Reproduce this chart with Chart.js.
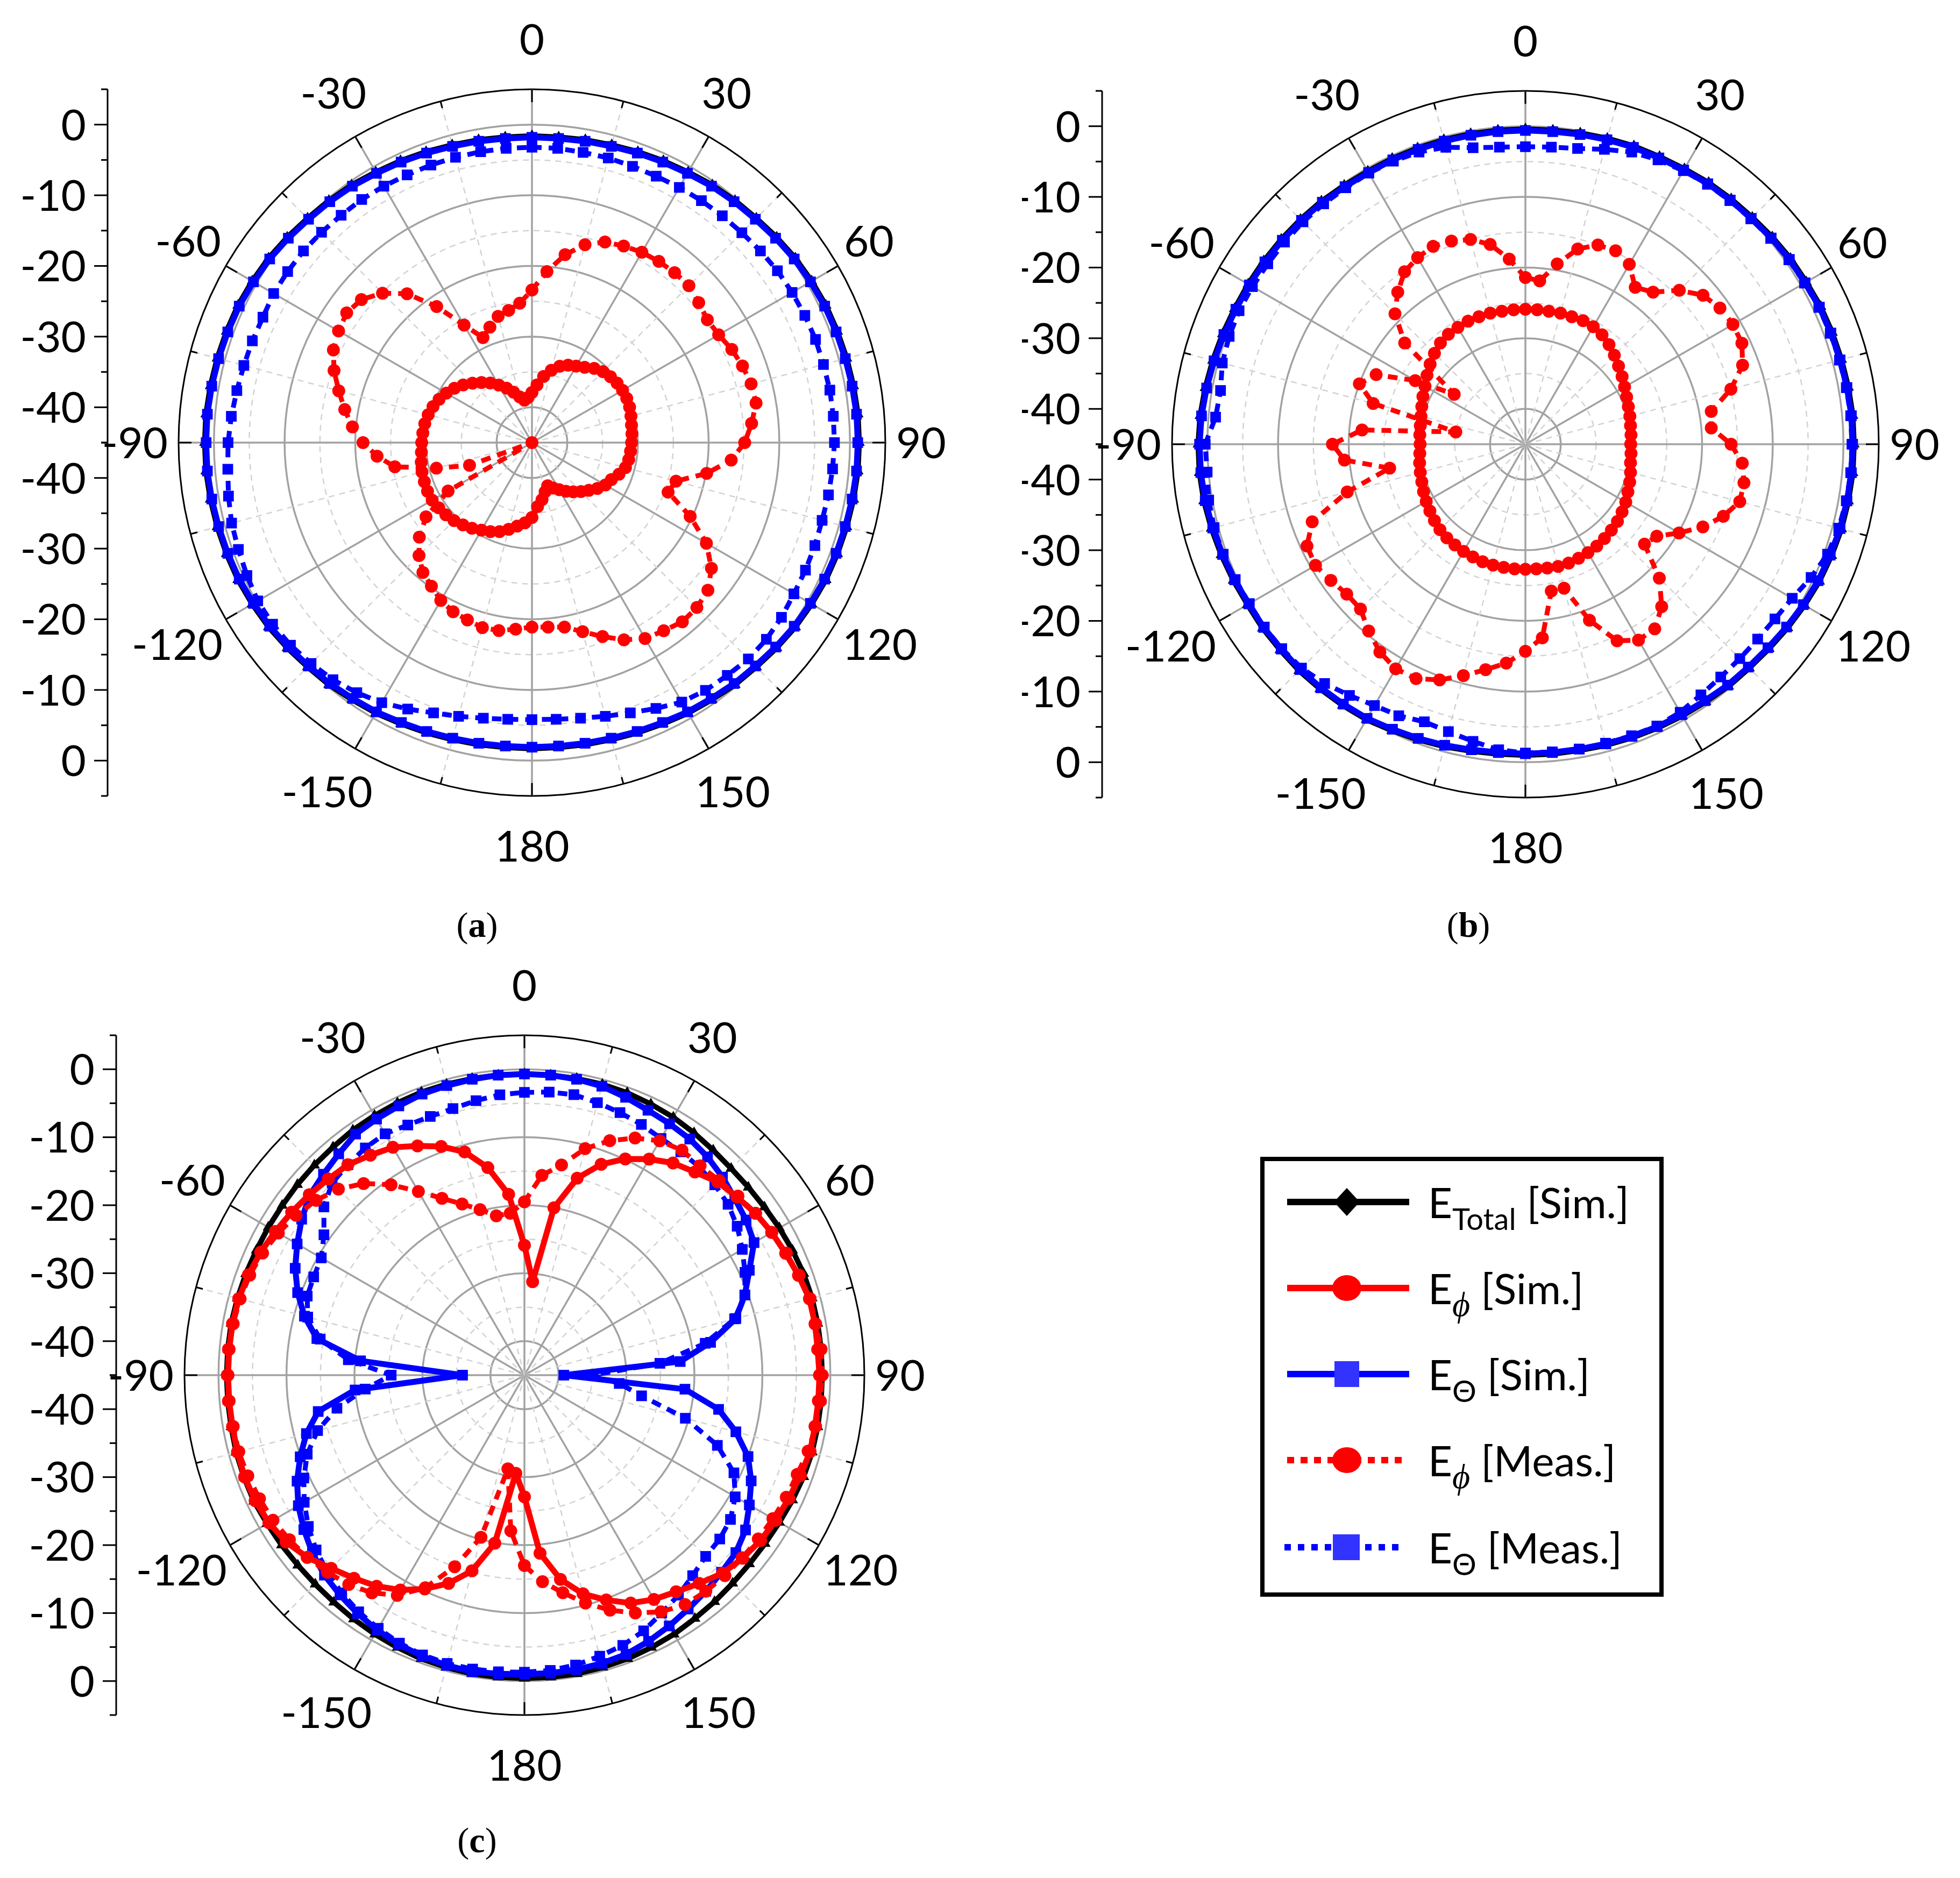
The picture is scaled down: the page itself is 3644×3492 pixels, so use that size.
<!DOCTYPE html>
<html>
<head>
<meta charset="utf-8">
<script src="https://cdn.jsdelivr.net/npm/chart.js@4.4.1/dist/chart.umd.min.js"></script>
<style>
  html, body { margin: 0; padding: 0; background: #fff; }
  body { width: 3644px; height: 3492px; position: relative; overflow: hidden; }
  canvas { position: absolute; }
  .cap { position: absolute; width: 200px; margin-left: -100px; text-align: center;
         font-family: 'Liberation Serif', 'DejaVu Serif', serif; font-size: 66px; line-height: 72px; }
  #legend { position: absolute; left: 2343px; top: 2151px; width: 750px; height: 818px;
            border: 8px solid #000; box-sizing: border-box; }
  #legend svg { position: absolute; left: 0; top: 0; }
</style>
</head>
<body>
<canvas id="chartA" width="1900" height="1820" style="left:0;top:0"></canvas>
<canvas id="chartB" width="1744" height="1820" style="left:1900px;top:0"></canvas>
<canvas id="chartC" width="1900" height="1752" style="left:0;top:1740px"></canvas>

<div class="cap" style="left:887px;top:1684px">(<b>a</b>)</div>
<div class="cap" style="left:2730px;top:1684px">(<b>b</b>)</div>
<div class="cap" style="left:887px;top:3386px">(<b>c</b>)</div>

<div id="legend">
  <svg width="734" height="802" xmlns="http://www.w3.org/2000/svg">
    <!-- E_Total [Sim.] -->
    <line x1="42" y1="76" x2="269" y2="76" stroke="#000" stroke-width="12"/>
    <polygon points="153,50 177,76 153,102 129,76" fill="#000"/>
    <!-- E_phi [Sim.] -->
    <line x1="42" y1="236" x2="269" y2="236" stroke="#ff0000" stroke-width="12"/>
    <ellipse cx="153" cy="236" rx="27" ry="24" fill="#ff0000"/>
    <!-- E_theta [Sim.] -->
    <line x1="42" y1="396" x2="269" y2="396" stroke="#0000ff" stroke-width="12"/>
    <rect x="130" y="372" width="46" height="48" fill="#3333ff"/>
    <!-- E_phi [Meas.] -->
    <line x1="42" y1="556" x2="262" y2="556" stroke="#ff0000" stroke-width="12" stroke-dasharray="13 12"/>
    <ellipse cx="153" cy="556" rx="27" ry="24" fill="#ff0000"/>
    <!-- E_theta [Meas.] -->
    <line x1="37" y1="718" x2="257" y2="718" stroke="#0000ff" stroke-width="12" stroke-dasharray="12 13"/>
    <rect x="127" y="694" width="50" height="48" fill="#3333ff"/>

    <g font-family="Lato, 'DejaVu Sans', sans-serif" font-size="78" fill="#000">
      <text x="304" y="106">E<tspan font-size="56" dy="22">Total</tspan><tspan dy="-22"> [Sim.]</tspan></text>
      <text x="304" y="266">E<tspan font-family="'Liberation Serif', serif" font-style="italic" font-size="64" dy="22">ϕ</tspan><tspan dy="-22"> [Sim.]</tspan></text>
      <text x="304" y="426">E<tspan font-size="56" dy="22">Θ</tspan><tspan dy="-22"> [Sim.]</tspan></text>
      <text x="304" y="586">E<tspan font-family="'Liberation Serif', serif" font-style="italic" font-size="64" dy="22">ϕ</tspan><tspan dy="-22"> [Meas.]</tspan></text>
      <text x="304" y="748">E<tspan font-size="56" dy="22">Θ</tspan><tspan dy="-22"> [Meas.]</tspan></text>
    </g>
  </svg>
</div>

<script>
// ──────────────────────────────────────────────────
// Polar radiation patterns (a), (b), (c) — Chart.js radar
// ──────────────────────────────────────────────────

// measurement angles (deg), clockwise from top
const ANGLES = [0, 5, 10, 15, 20, 25, 30, 35, 40, 45, 50, 55, 60, 65, 70, 75, 80, 85, 90,
  95, 100, 105, 110, 115, 120, 125, 130, 135, 140, 145, 150, 155, 160, 165, 170, 175, 180,
  -175, -170, -165, -160, -155, -150, -145, -140, -135, -130, -125, -120, -115, -110, -105,
  -100, -95, -90, -85, -80, -75, -70, -65, -60, -55, -50, -45, -40, -35, -30, -25, -20, -15, -10, -5];

const ANGLE_TICKS = [0, 30, 60, 90, 120, 150, 180, -150, -120, -90, -60, -30];
const RADIAL_TICKS = [0, -10, -20, -30, -40];
const RINGS = [-40, -35, -30, -25, -20, -15, -10, -5, 0, 5];
const R_MIN = -45;
const R_MAX = 5;

// ─── (a) ─────────────────────────────────────────
const A_TOTAL = [-1.6, -1.6, -1.5, -1.4, -1.2, -1.0, -0.8, -0.5, -0.3, -0.1,
  0.2, 0.5, 0.7, 0.9, 1.0, 1.1, 1.2, 1.3, 1.3, 1.3, 1.2, 1.1, 1.0, 0.9, 0.7, 0.5, 0.2, -0.1, -0.3, -0.6,
  -0.8, -1.1, -1.3, -1.5, -1.6, -1.7, -1.7,
  -1.7, -1.6, -1.5, -1.3, -1.1, -0.8, -0.6, -0.3, -0.1, 0.2, 0.5, 0.7, 0.9, 1.0, 1.1, 1.2, 1.3, 1.3,
  1.3, 1.2, 1.1, 1.0, 0.9, 0.7, 0.5, 0.2, -0.1, -0.3, -0.5, -0.8, -1.0, -1.2, -1.4, -1.5, -1.6];
const A_THETA_SIM = [-1.8, -1.8, -1.7, -1.6, -1.4, -1.2, -1.0, -0.7, -0.5, -0.3,
  0.0, 0.3, 0.5, 0.7, 0.8, 0.9, 1.0, 1.1, 1.1, 1.1, 1.0, 0.9, 0.8, 0.7, 0.5, 0.3, 0.0, -0.3, -0.5, -0.8,
  -1.0, -1.3, -1.5, -1.7, -1.8, -1.9, -1.9,
  -1.9, -1.8, -1.7, -1.5, -1.3, -1.0, -0.8, -0.5, -0.3, 0.0, 0.3, 0.5, 0.7, 0.8, 0.9, 1.0, 1.1, 1.1,
  1.1, 1.0, 0.9, 0.8, 0.7, 0.5, 0.3, 0.0, -0.3, -0.5, -0.7, -1.0, -1.2, -1.4, -1.6, -1.7, -1.8];
const A_THETA_MEAS = [-3.2, -3.2, -3.3, -3.3, -3.4, -3.4, -3.3, -3.2, -3.1, -3.0,
  -2.8, -2.6, -2.5, -2.4, -2.3, -2.3, -2.2, -2.2, -2.2, -2.3, -2.4, -2.5, -2.4, -2.3, -2.2, -1.9, -1.7, -1.7, -2.0, -2.2,
  -2.6, -3.5, -4.3, -4.9, -5.4, -5.7, -5.8,
  -5.7, -5.4, -4.9, -4.3, -3.4, -2.5, -1.8, -1.2, -0.8, -0.4, -0.2, -0.2, -0.5, -0.8, -1.0, -1.4, -1.8, -2.0,
  -2.3, -2.6, -2.8, -2.9, -3.0, -2.8, -2.8, -2.8, -2.9, -3.0, -3.0, -3.1, -3.2, -3.2, -3.2, -3.2, -3.2];
const A_PHI_SIM = [-37.9, -36.8, -35.5, -34.4, -33.5, -32.9, -32.5, -32.0, -31.3, -30.8,
  -30.5, -30.3, -30.2, -30.2, -30.3, -30.5, -30.7, -30.8, -30.9, -31.0,
  -31.1, -31.3, -31.9, -32.6, -33.0, -33.7, -34.5, -35.2, -35.9, -36.6,
  -37.3, -37.9, -38.5, -37.8, -36.8, -35.9, -34.4,
  -33.6, -33.0, -32.3, -31.6, -31.1, -30.7, -30.2, -29.8, -29.4, -29.1,
  -28.9, -28.7, -28.7, -28.8, -28.9, -29.1, -29.3, -29.4, -29.5, -29.6,
  -29.8, -30.1, -30.5, -31.0, -31.6, -32.3, -33.1, -33.9, -34.7, -35.6,
  -36.5, -37.4, -38.3, -38.9, -38.6];
const A_PHI_MEAS = [-23.4, -20.7, -18.0, -16.0, -14.8, -14.3, -13.9, -13.7, -13.6, -13.6,
  -14.2, -14.7, -14.5, -13.8, -13.3, -12.9, -12.8, -13.8, -14.9, -16.7,
  -19.9, -23.9, -24.5, -20.3, -16.5, -14.0, -12.5, -12.0, -11.9, -12.5,
  -13.0, -14.2, -15.8, -17.3, -18.5, -18.8, -18.9,
  -18.5, -18.0, -17.9, -18.3, -18.6, -19.2, -20.2, -21.0, -22.4, -24.2,
  -26.7, -31.3, -45.0, -35.6, -31.0, -25.3, -23.0, -21.1, -19.5, -18.1,
  -16.7, -15.2, -14.0, -13.4, -13.0, -13.5, -15.1, -17.5, -21.5, -25.8,
  -28.6, -27.6, -26.5, -26.0, -25.2];

// ─── (b) ─────────────────────────────────────────
const B_TOTAL = [-0.4, -0.4, -0.3, -0.2, -0.1, -0.1, 0.0, 0.2, 0.3, 0.4,
  0.6, 0.8, 0.9, 1.1, 1.2, 1.3, 1.4, 1.5, 1.5, 1.5, 1.4, 1.3, 1.1, 0.9, 0.6, 0.3, 0.0, -0.2, -0.3, -0.5,
  -0.6, -0.7, -0.8, -0.9, -1.0, -1.0, -1.0,
  -1.0, -0.9, -0.7, -0.5, -0.3, 0.0, 0.1, 0.2, 0.3, 0.3, 0.4, 0.4, 0.6, 0.8, 1.0, 1.2, 1.3, 1.3,
  1.2, 1.0, 0.8, 0.6, 0.4, 0.3, 0.2, 0.1, 0.0, -0.1, -0.3, -0.4, -0.4, -0.4, -0.4, -0.4, -0.4];
const B_THETA_SIM = [-0.6, -0.6, -0.5, -0.4, -0.3, -0.3, -0.2, 0.0, 0.1, 0.2,
  0.4, 0.6, 0.7, 0.9, 1.0, 1.1, 1.2, 1.3, 1.3, 1.3, 1.2, 1.1, 0.9, 0.7, 0.4, 0.1, -0.2, -0.4, -0.5, -0.7,
  -0.8, -0.9, -1.0, -1.1, -1.2, -1.2, -1.2,
  -1.2, -1.1, -0.9, -0.7, -0.5, -0.2, -0.1, 0.0, 0.1, 0.1, 0.2, 0.2, 0.4, 0.6, 0.8, 1.0, 1.1, 1.1,
  1.0, 0.8, 0.6, 0.4, 0.2, 0.1, 0.0, -0.1, -0.2, -0.3, -0.5, -0.6, -0.6, -0.6, -0.6, -0.6, -0.6];
const B_THETA_MEAS = [-2.9, -2.8, -2.5, -1.8, -1.0, -0.6, -0.3, -0.1, 0.0, 0.1,
  0.3, 0.5, 0.6, 0.8, 0.9, 1.0, 1.1, 1.2, 1.2, 1.2, 1.1, 0.9, 0.5, -0.4, -1.4, -1.9, -2.1, -2.1, -2.0, -1.7,
  -1.2, -1.0, -1.1, -1.2, -1.2, -1.3, -1.3,
  -1.6, -2.3, -2.9, -3.2, -2.6, -2.3, -1.6, -0.8, -0.2, 0.0, 0.1, 0.1, 0.3, 0.5, 0.6, 0.5, 0.2, 0.3,
  -1.0, -1.2, -0.6, -0.4, -0.3, -0.4, -0.5, -0.5, -0.5, -0.6, -0.7, -0.7, -0.8, -1.0, -1.5, -2.4, -2.8];
const B_PHI_SIM = [-25.9, -25.9, -25.9, -25.8, -25.8, -25.7, -25.8, -26.1, -26.6, -27.2,
  -27.8, -28.3, -28.8, -29.2, -29.5, -29.7, -29.9, -30.0, -30.1, -30.0,
  -29.9, -29.6, -29.3, -29.0, -28.6, -28.3, -28.0, -27.8, -27.6, -27.4,
  -27.3, -27.2, -27.1, -27.1, -27.2, -27.3, -27.3,
  -27.3, -27.3, -27.3, -27.3, -27.4, -27.5, -27.6, -27.7, -27.9, -28.2,
  -28.5, -28.8, -29.1, -29.4, -29.6, -29.8, -30.0, -30.1, -30.0, -29.9,
  -29.7, -29.4, -29.0, -28.6, -28.0, -27.4, -26.8, -26.3, -26.0, -25.9,
  -25.8, -25.8, -25.8, -25.9, -25.9];
const B_PHI_MEAS = [-21.4, -21.8, -19.1, -16.4, -15.0, -14.8, -15.6, -17.9, -16.9, -14.2,
  -12.2, -11.4, -11.1, -11.2, -12.3, -14.9, -18.3, -18.6, -15.9, -14.2,
  -13.6, -13.6, -15.2, -17.3, -19.9, -22.3, -23.0, -18.2, -15.0, -13.1,
  -13.0, -14.3, -18.5, -23.9, -23.9, -17.5, -15.7,
  -13.9, -12.6, -11.1, -9.5, -8.4, -8.3, -9.1, -10.5, -12.0, -12.0,
  -11.4, -10.7, -10.9, -12.9, -18.9, -25.5, -19.3, -17.7, -21.8, -35.0,
  -22.7, -20.0, -21.7, -27.0, -32.7, -22.7, -18.9, -16.9, -15.2, -14.5,
  -14.1, -14.4, -15.0, -16.3, -18.7];

// ─── (c) ─────────────────────────────────────────
const C_TOTAL = [-0.7, -0.7, -0.7, -0.7, -0.8, -1.0, -1.2, -1.5, -1.8, -2.0,
  -2.0, -1.9, -1.7, -1.5, -1.3, -1.2, -1.2, -1.2, -1.2, -1.2,
  -1.2, -1.2, -1.3, -1.5, -1.7, -1.8, -1.8, -1.7, -1.5, -1.3,
  -1.0, -0.8, -0.6, -0.5, -0.4, -0.4, -0.4,
  -0.4, -0.4, -0.5, -0.6, -0.8, -1.0, -1.2, -1.4, -1.5, -1.5,
  -1.4, -1.3, -1.1, -1.1, -1.1, -1.2, -1.2, -1.2, -1.2, -1.2,
  -1.3, -1.4, -1.5, -1.5, -1.5, -1.4, -1.3, -1.2, -1.0, -0.9,
  -0.8, -0.7, -0.7, -0.7, -0.7];
const C_THETA_SIM = [-0.7, -0.7, -0.8, -1.0, -1.5, -2.0, -2.3, -2.6, -3.1, -3.8,
  -4.6, -5.2, -6.0, -8.5, -10.5, -12.8, -17.2, -22.0, -39.2, -21.3,
  -16.0, -12.8, -10.0, -8.2, -6.8, -5.3, -4.4, -4.0, -3.5, -3.0,
  -2.4, -1.8, -1.3, -1.1, -1.0, -1.0, -1.0,
  -0.9, -0.7, -0.8, -1.0, -1.3, -1.7, -2.2, -2.8, -3.4, -4.3,
  -5.4, -6.6, -8.1, -9.9, -11.8, -14.2, -20.0, -35.9, -20.8, -14.0,
  -11.5, -9.5, -7.8, -6.4, -5.0, -3.8, -3.2, -2.5, -1.7, -1.5,
  -1.3, -1.0, -0.9, -0.8, -0.7];
const C_THETA_MEAS = [-3.4, -3.2, -3.1, -3.5, -3.9, -4.3, -4.8, -4.9, -5.0, -5.4,
  -5.9, -6.8, -8.0, -9.2, -10.5, -13.0, -18.0, -25.0, -35.0, -31.0,
  -27.5, -20.5, -14.8, -11.0, -9.2, -8.0, -7.5, -7.3, -6.5, -5.5,
  -4.6, -3.5, -2.7, -2.2, -1.7, -1.4, -1.3,
  -1.2, -1.1, -1.1, -1.2, -1.5, -2.0, -2.5, -3.2, -4.0, -5.0,
  -6.2, -7.6, -9.2, -11.0, -13.5, -17.0, -21.5, -25.4, -19.0, -14.5,
  -12.0, -11.0, -10.8, -10.5, -9.0, -6.5, -5.0, -4.6, -4.2, -4.0,
  -4.4, -4.5, -4.4, -4.0, -3.6];
const C_PHI_SIM = [-25.9, -31.2, -20.0, -15.0, -12.0, -9.9, -8.3, -6.9, -6.0, -4.8,
  -4.2, -3.5, -3.0, -2.6, -2.1, -1.6, -1.6, -1.7, -1.6, -1.6,
  -1.6, -1.5, -1.8, -2.1, -2.3, -2.6, -3.1, -3.8, -5.0, -6.1,
  -6.9, -8.0, -9.8, -11.7, -14.5, -18.7, -27.1,
  -30.5, -19.9, -15.2, -12.4, -10.3, -8.5, -7.1, -6.0, -4.8, -3.3,
  -2.2, -1.6, -1.3, -1.2, -1.3, -1.4, -1.4, -1.4, -1.4, -1.4,
  -1.5, -1.8, -2.2, -2.7, -3.2, -3.7, -4.2, -4.6, -5.5, -6.3,
  -7.8, -9.2, -11.0, -14.0, -18.3];
const C_PHI_MEAS = [-19.5, -15.5, -13.6, -10.5, -8.3, -6.5, -5.2, -4.6, -4.8, -4.5,
  -4.0, -3.5, -3.0, -2.5, -2.0, -1.5, -1.5, -1.2, -1.2, -1.3,
  -1.5, -1.8, -2.3, -2.5, -2.8, -3.0, -3.2, -3.3, -3.5, -3.8,
  -4.8, -6.4, -8.2, -10.3, -12.5, -14.5, -17.0,
  -22.0, -31.0, -20.3, -15.0, -10.5, -7.6, -5.9, -4.8, -4.0, -3.3,
  -2.8, -2.3, -2.0, -1.7, -1.5, -1.5, -1.3, -1.3, -1.3, -1.5,
  -1.7, -2.0, -2.5, -3.2, -4.0, -5.0, -6.3, -8.2, -10.8, -13.8,
  -16.3, -18.2, -19.8, -21.2, -21.1];

const FONT = "Lato, 'DejaVu Sans', sans-serif";
const FONT_SIZE = 80;

// ─── Polar frame: rings, spokes, angle labels, left dB axis ──
const polarFrame = {
  id: 'polarFrame',
  beforeDatasetsDraw(chart, args, opts) {
    const s = chart.scales.r;
    const ctx = chart.ctx;
    const cx = s.xCenter;
    const cy = s.yCenter;
    const R = s.getDistanceFromCenterForValue(R_MAX);

    ctx.save();

    // rings
    RINGS.forEach(v => {
      const r = s.getDistanceFromCenterForValue(v);
      ctx.beginPath();
      ctx.arc(cx, cy, r, 0, Math.PI * 2);
      if (v === R_MAX) {
        ctx.strokeStyle = '#000'; ctx.lineWidth = 3; ctx.setLineDash([]);
      } else if (v % 10 === 0) {
        ctx.strokeStyle = '#a2a2a2'; ctx.lineWidth = 3.5; ctx.setLineDash([]);
      } else {
        ctx.strokeStyle = '#d3d3d3'; ctx.lineWidth = 2.5; ctx.setLineDash([11, 9]);
      }
      ctx.stroke();
    });

    // spokes + ticks on the outer circle
    ANGLES.forEach((a, i) => {
      if (a % 15 !== 0) return;
      const major = a % 30 === 0;
      const p = s.getPointPosition(i, R);
      ctx.beginPath();
      ctx.moveTo(cx, cy);
      ctx.lineTo(p.x, p.y);
      if (major) {
        ctx.strokeStyle = '#a2a2a2'; ctx.lineWidth = 3.5; ctx.setLineDash([]);
      } else {
        ctx.strokeStyle = '#d3d3d3'; ctx.lineWidth = 2.5; ctx.setLineDash([11, 9]);
      }
      ctx.stroke();

      const q = s.getPointPosition(i, R - (major ? 24 : 13));
      ctx.beginPath();
      ctx.moveTo(p.x, p.y);
      ctx.lineTo(q.x, q.y);
      ctx.strokeStyle = '#000'; ctx.lineWidth = 3; ctx.setLineDash([]);
      ctx.stroke();
    });

    // angle labels
    ctx.font = `${FONT_SIZE}px ${FONT}`;
    ctx.fillStyle = '#000';
    ctx.textAlign = 'center';
    ctx.textBaseline = 'alphabetic';
    const capH = FONT_SIZE * 0.72;
    ANGLE_TICKS.forEach(a => {
      const i = ANGLES.indexOf(a);
      const u = s.getPointPosition(i, 1000);
      const sx = (u.x - cx) / 1000;
      const sy = (u.y - cy) / 1000;
      const txt = String(a);
      const w = ctx.measureText(txt).width;
      const x = cx + sx * (R + 20 + w / 2);
      const y = cy + sy * (R + 64 + capH / 2) + capH / 2;
      ctx.fillText(txt, x, y);
    });

    // left dB axis (mirrored above/below the centre)
    const ax = opts.axisX;
    ctx.strokeStyle = '#000';
    ctx.lineWidth = 3;
    ctx.beginPath();
    ctx.moveTo(ax, cy - R);
    ctx.lineTo(ax, cy + R);
    ctx.stroke();

    const tickVals = RINGS.concat([R_MIN]);
    tickVals.forEach(v => {
      const d = s.getDistanceFromCenterForValue(v);
      const len = RADIAL_TICKS.includes(v) ? 25 : 12;
      [-1, 1].forEach(sg => {
        ctx.beginPath();
        ctx.moveTo(ax, cy + sg * d);
        ctx.lineTo(ax - len, cy + sg * d);
        ctx.stroke();
      });
    });

    ctx.textAlign = 'right';
    RADIAL_TICKS.forEach(v => {
      const d = s.getDistanceFromCenterForValue(v);
      [-1, 1].forEach(sg => {
        ctx.fillText(String(v), ax - 40, cy + sg * d + capH / 2);
      });
    });

    ctx.restore();
  }
};

// ─── Dataset styling ─────────────────────────────
function series(label, data, color, marker, radius, width, dash) {
  return {
    label,
    data,
    borderColor: color,
    backgroundColor: color,
    borderWidth: width,
    borderDash: dash || [],
    borderJoinStyle: 'round',
    fill: false,
    pointStyle: marker,
    pointRadius: radius,
    pointHoverRadius: radius,
    pointBorderWidth: 0,
    pointBackgroundColor: color,
  };
}

function buildSets(phiSim, phiMeas, thetaSim, thetaMeas, total) {
  // first entry is painted last (on top)
  return [
    series('Eϕ [Sim.]', phiSim, '#ff0000', 'circle', 12, 11),
    series('Eϕ [Meas.]', phiMeas, '#ff0000', 'circle', 12, 9, [18, 13]),
    series('EΘ [Sim.]', thetaSim, '#0000ff', 'rect', 14, 11),
    series('EΘ [Meas.]', thetaMeas, '#0000ff', 'rect', 14, 9, [18, 13]),
    series('ETotal [Sim.]', total, '#000000', 'triangle', 12, 10),
  ];
}

function makeChart(id, datasets, padding, axisX) {
  return new Chart(document.getElementById(id), {
    type: 'radar',
    data: { labels: ANGLES.map(String), datasets },
    options: {
      responsive: false,
      animation: false,
      devicePixelRatio: 1,
      layout: { padding },
      elements: { line: { tension: 0 } },
      plugins: {
        legend: { display: false },
        tooltip: { enabled: false },
        polarFrame: { axisX },
      },
      scales: {
        r: {
          min: R_MIN,
          max: R_MAX,
          beginAtZero: false,
          ticks: { display: false, stepSize: 5 },
          pointLabels: { display: false },
          grid: { display: false },
          angleLines: { display: false },
        },
      },
    },
    plugins: [polarFrame],
  });
}

makeChart('chartA',
  buildSets(A_PHI_SIM, A_PHI_MEAS, A_THETA_SIM, A_THETA_MEAS, A_TOTAL),
  { left: 332, right: 254, top: 166, bottom: 340 }, 200);

makeChart('chartB',
  buildSets(B_PHI_SIM, B_PHI_MEAS, B_THETA_SIM, B_THETA_MEAS, B_TOTAL),
  { left: 279, right: 151, top: 169, bottom: 337 }, 149);

makeChart('chartC',
  buildSets(C_PHI_SIM, C_PHI_MEAS, C_THETA_SIM, C_THETA_MEAS, C_TOTAL),
  { left: 343, right: 293, top: 185, bottom: 303 }, 216);
</script>
</body>
</html>
